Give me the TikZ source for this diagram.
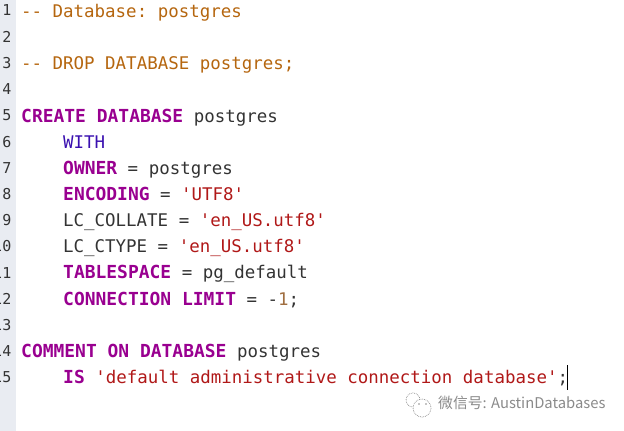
\documentclass[tikz,border=0pt]{standalone}
\usepackage{xcolor}
\usepackage{fontspec}
\setmonofont{DejaVu Sans Mono}
\newfontfamily\cjkfont{Noto Sans CJK SC}
\definecolor{guttergray}{HTML}{E9ECF2}
\definecolor{commentcol}{HTML}{B5660F}
\definecolor{keywordcol}{HTML}{990090}
\definecolor{withcol}{HTML}{3A10B0}
\definecolor{stringcol}{HTML}{B01818}
\definecolor{numbercol}{HTML}{A06E40}
\definecolor{plaincol}{HTML}{333333}
\definecolor{markcol}{HTML}{8A8A8A}
\newcommand{\cm}[1]{\textcolor{commentcol}{#1}}
\newcommand{\kw}[1]{\textcolor{keywordcol}{\fontsize{17.95}{20}\selectfont\bfseries #1}}
\newcommand{\str}[1]{\textcolor{stringcol}{#1}}
\tikzset{
    codeline/.style={anchor=base west, inner sep=0pt, text=plaincol,
        font=\fontsize{17.45}{20}\selectfont\ttfamily},
    linenum/.style={anchor=base east, inner sep=0pt, text=plaincol,
        font=\fontsize{15}{18}\selectfont\ttfamily},
    markline/.style={draw=markcol, line width=0.7pt, densely dotted}
}
\begin{document}
\begin{tikzpicture}[x=1pt,y=-1pt]
                \useasboundingbox (0,0) rectangle (624,431);

                \fill[guttergray] (0,0) rectangle (16,431);

                % line numbers
                \foreach \n in {1,...,15}
                    \node[linenum] (num\n) at (11.5,{16+26.2*(\n-1)}) {\n};

                % code
                \node[codeline] (line1) at (21,17) {\cm{-- Database: postgres}};
                \node[codeline] (line3) at (21,69.3) {\cm{-- DROP DATABASE postgres;}};
                \node[codeline] (line5) at (21,122) {\kw{CREATE DATABASE} postgres};
                \node[codeline] (line6) at (63,148.2) {\textcolor{withcol}{WITH}};
                \node[codeline] (line7) at (63,174.3) {\kw{OWNER} = postgres};
                \node[codeline] (line8) at (63,200.5) {\kw{ENCODING} = \str{'UTF8'}};
                \node[codeline] (line9) at (63,226.6) {LC\_COLLATE = \str{'en\_US.utf8'}};
                \node[codeline] (line10) at (63,252.8) {LC\_CTYPE = \str{'en\_US.utf8'}};
                \node[codeline] (line11) at (63,278.9) {\kw{TABLESPACE} = pg\_default};
                \node[codeline] (line12) at (63,305.1) {\kw{CONNECTION LIMIT} = -\textcolor{numbercol}{1};};
                \node[codeline] (line14) at (21,357.3) {\kw{COMMENT ON DATABASE} postgres};
                \node[codeline] (line15) at (63,383.7) {\kw{IS} \str{'default administrative connection database'};};

                % caret
                \draw[line width=0.8pt, black] (567.5,365) -- (567.5,390);

                % watermark
                \draw[markline] (413,400) circle (7);
                \draw[markline, fill=white] (422,408) circle (9);
                \fill[markcol] (419,404) circle (0.9);
                \fill[markcol] (426,404) circle (0.9);
                \node[anchor=west, inner sep=0pt, text=markcol,
                    font=\fontsize{14.8}{16}\selectfont\cjkfont] (mark) at (438,403) {微信号: AustinDatabases};
\end{tikzpicture}
\end{document}
